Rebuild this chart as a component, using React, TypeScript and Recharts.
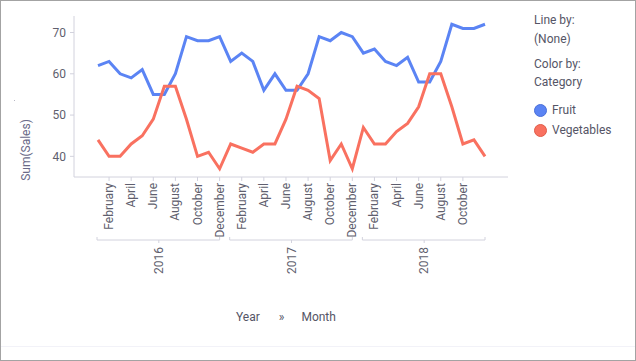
import React from "react";
import { LineChart, Line, XAxis, YAxis } from "recharts";

const MONTHS = [
  "January",
  "February",
  "March",
  "April",
  "May",
  "June",
  "July",
  "August",
  "September",
  "October",
  "November",
  "December",
];
const YEARS = ["2016", "2017", "2018"];

// Sum(Sales) by month, Jan 2016 .. Dec 2018
const FRUIT = [
  62, 63, 60, 59, 61, 55, 55, 60, 69, 68, 68, 69,
  63, 65, 63, 56, 60, 56, 56, 60, 69, 68, 70, 69,
  65, 66, 63, 62, 64, 58, 58, 63, 72, 71, 71, 72,
];
const VEGETABLES = [
  44, 40, 40, 43, 45, 49, 57, 57, 49, 40, 41, 37,
  43, 42, 41, 43, 43, 49, 57, 56, 54, 39, 43, 37,
  47, 43, 43, 46, 48, 52, 60, 60, 52, 43, 44, 40,
];
const Y_TICKS = [40, 50, 60, 70];

const data = YEARS.flatMap((year, yi) =>
  MONTHS.map((month, mi) => ({
    key: `${year}-${mi + 1}`,
    year,
    month,
    mi,
    fruit: FRUIT[yi * 12 + mi],
    vegetables: VEGETABLES[yi * 12 + mi],
  }))
);
const keys = data.map((d) => d.key);

const W = 636;
const H = 361;
const MARGIN = { top: 16, right: 128, bottom: 0, left: 34 };
const Y_WIDTH = 40;
const X_HEIGHT = 184;
const PAD = { left: 24, right: 23 };
const PLOT_W = W - MARGIN.left - MARGIN.right - Y_WIDTH;
const STEP = (PLOT_W - PAD.left - PAD.right) / (data.length - 1);

const BLUE = "#5b84f4";
const RED = "#f97160";
const AXIS = "#d2d2dd";
const TEXT = "#5f5f6e";

const MonthTick = (props: any) => {
  const { x, y, payload, index } = props;
  const d = data.find((r) => r.key === payload.value);
  if (!d) return null;
  const showMonth = d.mi % 2 === 1 && index !== data.length - 1;
  const by = y + 63;
  return (
    <g>
      {showMonth && (
        <>
          <line x1={x} x2={x} y1={y} y2={y + 4} stroke={AXIS} />
          <text
            transform={`translate(${x},${y + 6}) rotate(-90)`}
            textAnchor="end"
            dominantBaseline="central"
            fontSize={12}
            fill={TEXT}
            fontFamily="Roboto"
          >
            {d.month}
          </text>
        </>
      )}
      {d.mi === 0 && (
        <>
          <path
            d={`M${x - 1},${by - 3}V${by}H${x + 11 * STEP}V${by - 3}`}
            fill="none"
            stroke={AXIS}
          />
          <line
            x1={x + 5.5 * STEP}
            x2={x + 5.5 * STEP}
            y1={by}
            y2={by + 3}
            stroke={AXIS}
          />
          <text
            transform={`translate(${x + 5.5 * STEP},${by + 7}) rotate(-90)`}
            textAnchor="end"
            dominantBaseline="central"
            fontSize={12}
            fill={TEXT}
            fontFamily="Roboto"
          >
            {d.year}
          </text>
        </>
      )}
    </g>
  );
};

const legendText: React.CSSProperties = {
  position: "absolute",
  left: 533,
  fontSize: 12,
  color: "#555566",
  lineHeight: "14px",
  whiteSpace: "nowrap",
};

const dot = (top: number, color: string, border: string): React.CSSProperties => ({
  position: "absolute",
  left: 533,
  top,
  width: 11,
  height: 11,
  borderRadius: "50%",
  background: color,
  border: `1px solid ${border}`,
});

export default function App() {
  return (
    <div
      style={{
        position: "absolute",
        left: 0,
        top: 0,
        width: W,
        height: H,
        boxSizing: "border-box",
        border: "1px solid #a3a3a3",
        background: "#fff",
        fontFamily: "Roboto, sans-serif",
        overflow: "hidden",
      }}
    >
      <div style={{ position: "absolute", left: -1, top: -1 }}>
        <LineChart width={W} height={H} data={data} margin={MARGIN}>
          <XAxis
            dataKey="key"
            ticks={keys}
            interval={0}
            tickLine={false}
            tickSize={0}
            tickMargin={0}
            axisLine={{ stroke: AXIS }}
            height={X_HEIGHT}
            padding={PAD}
            tick={<MonthTick />}
          />
          <YAxis
            domain={[35, 74]}
            ticks={Y_TICKS}
            width={Y_WIDTH}
            tickSize={4}
            tickMargin={4}
            axisLine={{ stroke: AXIS }}
            tickLine={{ stroke: AXIS }}
            tick={{ fill: TEXT, fontSize: 12, fontFamily: "Roboto" }}
            allowDataOverflow
          />
          <Line
            type="linear"
            dataKey="fruit"
            stroke={BLUE}
            strokeWidth={3}
            dot={false}
            isAnimationActive={false}
          />
          <Line
            type="linear"
            dataKey="vegetables"
            stroke={RED}
            strokeWidth={3}
            dot={false}
            isAnimationActive={false}
          />
        </LineChart>
      </div>

      <div
        style={{
          position: "absolute",
          left: 25,
          top: 149,
          transform: "translate(-50%, -50%) rotate(-90deg)",
          fontSize: 12,
          color: "#6a6a88",
          whiteSpace: "nowrap",
        }}
      >
        Sum(Sales)
      </div>
      <div
        style={{
          position: "absolute",
          left: 13,
          top: 99,
          width: 1,
          height: 1,
          background: "#b8b8c4",
        }}
      />

      <div style={{ ...legendText, top: 12 }}>Line by:</div>
      <div style={{ ...legendText, top: 31 }}>(None)</div>
      <div style={{ ...legendText, top: 56 }}>Color by:</div>
      <div style={{ ...legendText, top: 74 }}>Category</div>
      <div style={dot(103, BLUE, "#4a6fd8")} />
      <div style={{ ...legendText, left: 551, top: 102 }}>Fruit</div>
      <div style={dot(123, RED, "#e05c48")} />
      <div style={{ ...legendText, left: 551, top: 122 }}>Vegetables</div>

      <div
        style={{
          position: "absolute",
          left: 235,
          top: 309,
          fontSize: 12,
          color: "#555566",
          whiteSpace: "nowrap",
        }}
      >
        Year
        <span style={{ marginLeft: 19, marginRight: 17 }}>»</span>
        Month
      </div>
      <div
        style={{
          position: "absolute",
          left: 0,
          top: 345,
          width: W,
          height: 1,
          background: "#f2f2f8",
        }}
      />
    </div>
  );
}
